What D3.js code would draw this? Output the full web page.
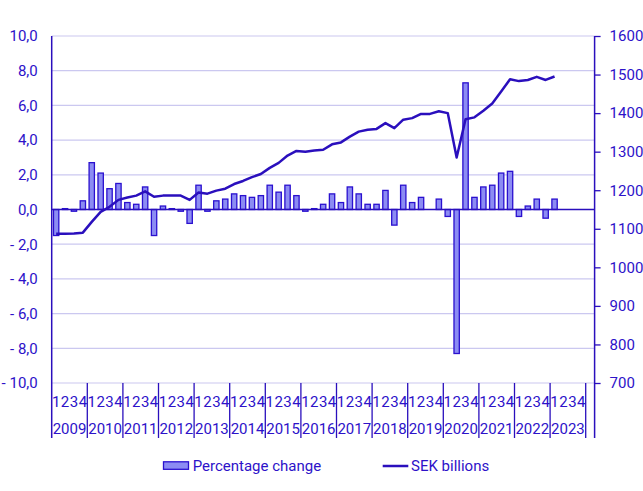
<!DOCTYPE html>
<html><head><meta charset="utf-8">
<script src="https://cdn.jsdelivr.net/npm/d3@7"></script>
<style>body{margin:0;background:#fff}svg text{font-family:Roboto,"Noto Sans",sans-serif}</style>
</head><body>
<svg id="c" width="643" height="491"></svg>
<script>
const years = [2009,2010,2011,2012,2013,2014,2015,2016,2017,2018,2019,2020,2021,2022,2023];
const quarterLabels = ["1","2","3","4"];
const pctChange = [
  -1.5, 0.05, -0.1, 0.5,
  2.7, 2.1, 1.2, 1.5,
  0.4, 0.3, 1.3, -1.5,
  0.2, 0.05, -0.1, -0.8,
  1.4, -0.1, 0.5, 0.6,
  0.9, 0.8, 0.7, 0.8,
  1.4, 1.0, 1.4, 0.8,
  -0.1, 0.05, 0.3, 0.9,
  0.4, 1.3, 0.9, 0.3,
  0.3, 1.1, -0.9, 1.4,
  0.4, 0.7, 0.0, 0.6,
  -0.4, -8.3, 7.3, 0.7,
  1.3, 1.4, 2.1, 2.2,
  -0.4, 0.2, 0.6, -0.5,
  0.6
];
const sekBillions = [
  1087, 1087, 1088, 1090,
  1118, 1144, 1157, 1175,
  1181, 1186, 1197, 1183,
  1186, 1186, 1186, 1175,
  1194, 1191, 1199, 1204,
  1216, 1224, 1234, 1242,
  1258, 1271, 1290, 1302,
  1300, 1303, 1305, 1319,
  1324, 1339, 1352, 1357,
  1359, 1374, 1361, 1383,
  1387, 1398, 1398, 1405,
  1400, 1285, 1384, 1389,
  1406, 1425, 1456, 1488,
  1483, 1486, 1494, 1486,
  1495
];
const leftTicks = [-10,-8,-6,-4,-2,0,2,4,6,8,10];
const rightTicks = [700,800,900,1000,1100,1200,1300,1400,1500,1600];
const seriesNames = ["Percentage change","SEK billions"];

const textCol = "#2d12c9", lineCol = "#2a0fbd", barFill = "#8c8cf3", barStroke = "#2a10cf", gridCol = "#cbc8f0";
const L = 51.7, T = 36, B = 383, AXB = 438;

const quarters = [];
years.forEach(y => quarterLabels.forEach(q => quarters.push(y + "-" + q)));
const x = d3.scaleBand().domain([...quarters, "pad"]).range([L, 594.6]);
const step = x.step();
const R = L + step * (quarters.length + 1); // right axis position
const yL = d3.scaleLinear().domain([-10, 10]).range([B, T]);
const yR = d3.scaleLinear().domain([700, 1600]).range([B, T]);

const svg = d3.select("#c");

// gridlines
svg.append("g").selectAll("line").data(leftTicks).join("line")
  .attr("x1", L).attr("x2", R).attr("y1", d => yL(d)).attr("y2", d => yL(d))
  .attr("stroke", gridCol).attr("stroke-width", 1.2);

// left axis labels
const fmt = d => (d < 0 ? "- " : "") + d3.format(".1f")(Math.abs(d)).replace(".", ",");
const gl = svg.append("g").attr("transform", `translate(${L},0)`)
  .call(d3.axisLeft(yL).tickValues(leftTicks).tickSize(0).tickPadding(14).tickFormat(fmt));
gl.select(".domain").remove();
gl.selectAll("text").attr("fill", textCol).style("font-size", "15px");

// right axis
const gr = svg.append("g").attr("transform", `translate(${R},0)`)
  .call(d3.axisRight(yR).tickValues(rightTicks).tickSize(6).tickSizeOuter(0).tickPadding(9).tickFormat(d3.format("d")));
gr.select(".domain").remove();
gr.selectAll("line").attr("stroke", lineCol).attr("stroke-width", 1.3);
gr.selectAll("text").attr("fill", textCol).style("font-size", "15px");

// bars
const bw = step * 0.6;
const bars = pctChange.map((v, i) => ({ k: quarters[i], v }));
svg.append("g").selectAll("rect").data(bars).join("rect")
  .attr("x", d => x(d.k) + (step - bw) / 2)
  .attr("width", bw)
  .attr("y", d => yL(Math.max(0, d.v)))
  .attr("height", d => Math.abs(yL(d.v) - yL(0)))
  .attr("fill", barFill).attr("stroke", barStroke).attr("stroke-width", 1.3);

// zero line
svg.append("line").attr("x1", L).attr("x2", R).attr("y1", yL(0)).attr("y2", yL(0))
  .attr("stroke", lineCol).attr("stroke-width", 1.3);

// axis lines
svg.append("line").attr("x1", L).attr("x2", L).attr("y1", T).attr("y2", AXB)
  .attr("stroke", lineCol).attr("stroke-width", 1.5);
svg.append("line").attr("x1", R).attr("x2", R).attr("y1", T).attr("y2", AXB)
  .attr("stroke", lineCol).attr("stroke-width", 1.5);

// category dividers
const yearEdges = years.map(y => x(y + "-1")).concat([x(years[years.length - 1] + "-4") + step]);
svg.append("g").selectAll("line").data(yearEdges.slice(1)).join("line")
  .attr("x1", d => d).attr("x2", d => d).attr("y1", B).attr("y2", AXB)
  .attr("stroke", lineCol).attr("stroke-width", 1.3);

// quarter labels
svg.append("g").selectAll("text").data(quarters).join("text")
  .attr("x", d => x(d) + step / 2).attr("y", 406.7)
  .attr("text-anchor", "middle").attr("fill", textCol).style("font-size", "15px")
  .text(d => d.split("-")[1]);
// year labels
svg.append("g").selectAll("text").data(years).join("text")
  .attr("x", d => x(d + "-1") + step * 2).attr("y", 434)
  .attr("text-anchor", "middle").attr("fill", textCol).style("font-size", "15px")
  .text(d => d);

// line
const line = d3.line().x((d, i) => x(quarters[i]) + step / 2).y(d => yR(d));
svg.append("path").datum(sekBillions).attr("d", line)
  .attr("fill", "none").attr("stroke", lineCol).attr("stroke-width", 2.5)
  .attr("stroke-linejoin", "round");

// legend
svg.append("rect").attr("x", 163.5).attr("y", 461.8).attr("width", 25).attr("height", 7.5)
  .attr("fill", barFill).attr("stroke", barStroke).attr("stroke-width", 1.3);
svg.append("text").attr("x", 192.7).attr("y", 471).attr("fill", textCol).style("font-size", "15px").text(seriesNames[0]);
svg.append("line").attr("x1", 382.7).attr("x2", 408.3).attr("y1", 466).attr("y2", 466)
  .attr("stroke", lineCol).attr("stroke-width", 2.5);
svg.append("text").attr("x", 411).attr("y", 471).attr("fill", textCol).style("font-size", "15px").text(seriesNames[1]);
</script>
</body></html>
